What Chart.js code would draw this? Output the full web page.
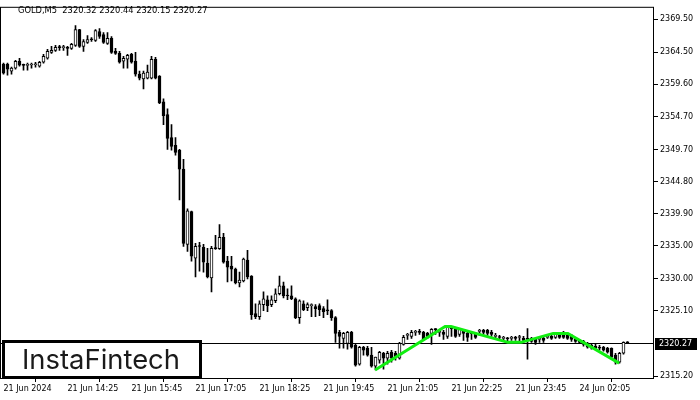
<!DOCTYPE html>
<html><head><meta charset="utf-8">
<script src="https://cdn.jsdelivr.net/npm/chart.js@4/dist/chart.umd.min.js"></script>
<style>html,body{margin:0;padding:0;background:#fff;}canvas{display:block;}</style>
</head><body>
<canvas id="c" width="700" height="400"></canvas>
<script>
const symbolTitle = "GOLD,M5";
const lastQuote = [2320.32, 2320.44, 2320.15, 2320.27];
const xLabels = ["21 Jun 2024","21 Jun 14:25","21 Jun 15:45","21 Jun 17:05","21 Jun 18:25","21 Jun 19:45","21 Jun 21:05","21 Jun 22:25","21 Jun 23:45","24 Jun 02:05"];
const xLabelBars = [0,16,32,48,64,80,96,112,128,144];
const yTicks = [2369.50,2364.50,2359.60,2354.70,2349.70,2344.80,2339.90,2335.00,2330.00,2325.10,2315.20];
const opens = [2362.68,2362.68,2361.62,2362.07,2363.13,2362.53,2362.50,2362.55,2362.60,2362.38,
2362.98,2363.58,2364.49,2364.79,2365.24,2365.20,2365.24,2365.09,2365.54,2367.95,
2365.39,2365.99,2366.44,2366.29,2367.65,2367.20,2365.84,2366.60,2364.64,2364.33,
2363.13,2363.43,2364.18,2363.13,2361.17,2360.42,2360.57,2360.57,2363.43,2360.87,
2356.95,2354.99,2351.52,2350.32,2349.57,2346.70,2335.25,2340.22,2333.14,2334.95,
2334.80,2332.39,2330.13,2334.65,2334.60,2336.30,2332.69,2331.93,2331.48,2329.37,
2329.67,2332.84,2330.43,2324.70,2324.25,2326.06,2326.81,2326.06,2326.66,2327.72,
2328.92,2327.41,2327.41,2326.96,2324.10,2326.21,2325.61,2325.91,2325.76,2325.91,
2325.46,2325.15,2325.15,2324.10,2321.84,2320.93,2320.18,2321.84,2319.88,2317.01,
2319.58,2319.43,2318.37,2316.71,2317.62,2318.67,2317.92,2318.82,2318.67,2317.92,
2320.03,2321.39,2321.24,2321.84,2321.86,2321.84,2321.69,2321.69,2322.29,2321.84,
2321.84,2321.24,2322.44,2322.44,2321.54,2322.14,2321.69,2321.69,2321.69,2321.99,
2322.14,2322.14,2321.84,2321.24,2321.09,2320.93,2320.90,2320.93,2320.96,2321.06,
2320.93,2320.93,2320.93,2320.78,2320.78,2320.93,2321.09,2321.24,2321.09,2321.69,
2321.69,2321.54,2321.24,2320.78,2320.63,2320.48,2320.18,2319.88,2319.73,2319.58,
2319.58,2319.43,2319.43,2318.37,2317.31,2318.67,2320.32];
const highs = [2362.83,2362.83,2362.23,2363.28,2363.58,2362.68,2362.83,2362.83,2362.98,2363.13,
2364.18,2364.94,2365.39,2365.54,2365.54,2365.54,2365.39,2365.84,2368.55,2368.00,
2366.44,2367.05,2366.75,2367.95,2368.10,2367.50,2367.50,2366.90,2365.09,2364.64,
2363.88,2364.18,2364.33,2364.49,2361.62,2361.62,2362.53,2363.88,2363.73,2360.95,
2357.40,2355.90,2353.48,2351.52,2349.70,2348.21,2340.67,2340.30,2335.40,2335.55,
2335.25,2334.65,2334.95,2336.61,2338.26,2336.91,2333.44,2333.44,2331.63,2331.03,
2333.14,2334.34,2330.50,2326.21,2326.66,2328.01,2327.41,2327.41,2328.47,2330.43,
2329.52,2328.47,2328.92,2327.11,2326.81,2326.66,2326.36,2326.21,2326.06,2326.21,
2325.76,2326.81,2325.30,2324.25,2322.14,2321.84,2321.99,2321.99,2320.18,2319.73,
2319.73,2319.73,2319.58,2318.10,2318.97,2318.82,2318.97,2319.12,2318.97,2320.33,
2321.39,2321.69,2322.14,2322.14,2322.29,2321.99,2321.84,2322.44,2322.44,2322.14,
2322.14,2322.89,2322.59,2322.50,2322.44,2322.29,2321.84,2321.99,2321.84,2322.29,
2322.29,2322.29,2322.14,2321.69,2321.39,2321.24,2321.09,2321.24,2321.24,2321.39,
2321.24,2322.44,2321.09,2320.93,2321.09,2321.24,2321.39,2321.54,2321.84,2321.84,
2321.99,2321.69,2321.54,2320.93,2320.78,2320.63,2320.33,2320.18,2320.03,2319.88,
2319.73,2319.58,2319.50,2318.67,2318.82,2320.40,2320.44];
const lows = [2361.17,2361.02,2361.17,2361.92,2362.38,2361.77,2361.77,2362.07,2362.23,2362.23,
2362.83,2363.43,2364.33,2364.64,2364.79,2364.79,2364.03,2364.94,2365.39,2365.24,
2364.64,2365.84,2366.14,2366.14,2366.60,2365.84,2365.69,2364.33,2364.18,2362.83,
2362.07,2362.07,2362.83,2360.87,2360.27,2358.91,2360.42,2360.42,2360.42,2356.65,
2353.48,2349.72,2349.57,2348.81,2342.03,2334.95,2334.19,2332.69,2330.28,2331.18,
2331.03,2330.13,2328.01,2334.49,2334.49,2332.39,2329.52,2329.67,2329.22,2328.77,
2329.52,2329.98,2323.80,2323.95,2323.80,2325.15,2325.00,2325.76,2326.36,2327.56,
2327.11,2326.81,2326.81,2323.95,2323.19,2325.15,2325.15,2324.25,2324.25,2324.40,
2324.10,2324.55,2323.65,2320.33,2319.43,2319.43,2319.27,2319.43,2316.71,2316.86,
2318.37,2318.22,2316.56,2316.11,2317.16,2316.26,2317.01,2317.31,2317.62,2317.77,
2319.88,2320.78,2320.93,2321.39,2321.54,2320.63,2320.93,2320.03,2321.54,2321.24,
2320.78,2320.93,2321.24,2321.09,2321.24,2320.63,2320.48,2320.78,2320.93,2321.39,
2321.54,2321.39,2321.24,2320.93,2320.78,2320.63,2320.48,2320.63,2320.63,2320.48,
2320.48,2317.77,2320.33,2320.03,2320.33,2320.33,2320.93,2320.78,2320.93,2320.93,
2320.93,2320.78,2320.48,2320.33,2320.18,2319.73,2319.43,2319.27,2319.27,2319.12,
2318.97,2318.67,2317.92,2317.01,2317.16,2318.52,2320.15];
const closes = [2361.32,2361.92,2362.07,2363.13,2362.53,2362.50,2362.55,2362.60,2362.68,2362.98,
2363.88,2364.64,2364.79,2365.24,2365.20,2365.24,2365.09,2365.69,2367.95,2365.39,
2366.14,2366.44,2366.40,2367.80,2366.90,2365.99,2366.60,2364.49,2364.33,2362.98,
2363.58,2364.03,2362.98,2361.17,2360.57,2361.32,2361.47,2363.43,2360.57,2356.80,
2354.84,2351.37,2350.17,2349.26,2346.70,2335.40,2340.37,2333.44,2334.95,2334.92,
2332.54,2330.28,2334.65,2334.60,2336.30,2332.54,2331.78,2331.48,2329.37,2329.82,
2332.99,2330.28,2324.55,2324.25,2326.21,2326.96,2325.91,2326.81,2327.72,2328.92,
2327.41,2327.38,2326.96,2324.10,2326.66,2325.30,2326.06,2325.95,2325.46,2325.30,
2325.00,2325.12,2324.10,2321.69,2321.24,2321.69,2321.84,2319.58,2316.86,2319.58,
2319.12,2318.37,2316.71,2318.07,2318.82,2317.92,2318.67,2317.92,2318.07,2320.18,
2321.08,2321.40,2321.84,2321.86,2321.84,2320.78,2321.24,2322.29,2322.26,2321.86,
2321.54,2322.74,2322.41,2321.24,2322.29,2321.69,2321.09,2321.66,2321.09,2322.01,
2321.84,2321.69,2321.54,2321.27,2321.06,2320.96,2320.87,2320.96,2320.93,2321.09,
2320.63,2320.78,2320.48,2320.33,2320.81,2320.63,2321.12,2320.93,2321.54,2321.09,
2321.09,2320.93,2320.78,2320.48,2320.33,2320.03,2319.58,2319.43,2319.43,2319.43,
2319.12,2318.82,2318.07,2317.31,2318.67,2320.33,2320.27];
const patternBars = [92.9,110.4,111.9,126.1,129.4,137.4,141.1,153.9];
const patternPrices = [2316.11,2322.74,2322.74,2320.33,2320.33,2321.69,2321.69,2317.16];
const logoText = "InstaFintech";

const barIdx = opens.map((_, i) => i);
const FONT = "DejaVu Sans";

const overlay = {
  id: 'overlay',
  beforeDatasetsDraw(chart) {
    const ctx = chart.ctx, ys = chart.scales.y, a = chart.chartArea;
    const ly = Math.ceil(ys.getPixelForValue(lastQuote[3])) + 0.5;
    ctx.save();
    ctx.strokeStyle = '#000'; ctx.lineWidth = 1;
    ctx.beginPath(); ctx.moveTo(a.left, ly); ctx.lineTo(a.right, ly); ctx.stroke();
    ctx.restore();
  },
  afterDraw(chart) {
    const ctx = chart.ctx, ys = chart.scales.y, a = chart.chartArea;
    ctx.save();
    ctx.strokeStyle = '#000'; ctx.lineWidth = 1;
    ctx.strokeRect(0.5, a.top + 0.5, a.right - 1, a.bottom - a.top);
    ctx.fillStyle = '#000';
    ctx.font = '8.3px "' + FONT + '"';
    ctx.textBaseline = 'middle'; ctx.textAlign = 'left';
    ctx.fillText(symbolTitle + '  ' + lastQuote.map(v => v.toFixed(2)).join(' '), 18, 11);
    const ly = Math.ceil(ys.getPixelForValue(lastQuote[3])) + 0.5;
    ctx.font = '8px "' + FONT + '"';
    ctx.fillStyle = '#000';
    ctx.fillRect(a.right + 1, Math.round(ly - 6), 42, 12);
    ctx.fillStyle = '#fff';
    ctx.fillText(lastQuote[3].toFixed(2), a.right + 5, ly);
    ctx.fillStyle = '#fff';
    ctx.fillRect(2, 340, 200, 39);
    ctx.strokeStyle = '#000'; ctx.lineWidth = 3;
    ctx.strokeRect(3.5, 341.5, 197, 36);
    let fs = 26;
    ctx.font = '400 ' + fs + 'px Inter';
    const w = ctx.measureText(logoText).width;
    fs = fs * 158 / w;
    ctx.font = '400 ' + fs.toFixed(2) + 'px Inter';
    ctx.fillStyle = '#1a1a1a';
    ctx.textBaseline = 'alphabetic';
    ctx.fillText(logoText, 22, 368.5);
    ctx.restore();
  }
};

new Chart(document.getElementById('c'), {
  data: {
    datasets: [
      {
        type: 'line', order: 0,
        data: patternBars.map((b, k) => ({x: b, y: patternPrices[k]})),
        borderColor: '#11ee11', borderWidth: 3, pointRadius: 0, tension: 0, fill: false
      },
      {
        type: 'bar', order: 1, grouped: false,
        data: barIdx.map(i => ({x: i, y: [opens[i], closes[i]]})),
        backgroundColor: barIdx.map(i => closes[i] > opens[i] ? '#ffffff' : '#000000'),
        borderColor: '#000', borderWidth: 1, borderSkipped: false,
        barThickness: 3, minBarLength: 1
      },
      {
        type: 'bar', order: 2, grouped: false,
        data: barIdx.map(i => ({x: i, y: [lows[i], highs[i]]})),
        backgroundColor: '#000', borderWidth: 0, barThickness: 1, minBarLength: 1
      }
    ]
  },
  options: {
    responsive: false, animation: false, devicePixelRatio: 1,
    layout: {padding: {top: 3, left: 0, right: 0, bottom: 0}},
    plugins: {legend: {display: false}, tooltip: {enabled: false}},
    scales: {
      x: {
        type: 'linear', min: -0.875, max: 162.625, offset: false,
        afterBuildTicks: s => { s.ticks = xLabelBars.map(v => ({value: v})); },
        afterFit: s => { s.height = 22; },
        ticks: {
          callback: v => xLabels[xLabelBars.indexOf(v)],
          align: 'start', maxRotation: 0, autoSkip: false, padding: 2,
          color: '#000', font: {family: FONT, size: 8}
        },
        grid: {drawOnChartArea: false, drawTicks: true, tickLength: 4, color: '#000'},
        border: {display: false}
      },
      y: {
        type: 'linear', position: 'right', min: 2314.898, max: 2371.418,
        afterBuildTicks: s => { s.ticks = yTicks.map(v => ({value: v})); },
        afterFit: s => { s.width = 46; },
        ticks: {
          callback: v => Number(v).toFixed(2), padding: 2,
          color: '#000', font: {family: FONT, size: 8}
        },
        grid: {drawOnChartArea: false, drawTicks: true, tickLength: 4, color: '#000'},
        border: {display: false}
      }
    }
  },
  plugins: [overlay]
});
</script>
</body></html>
